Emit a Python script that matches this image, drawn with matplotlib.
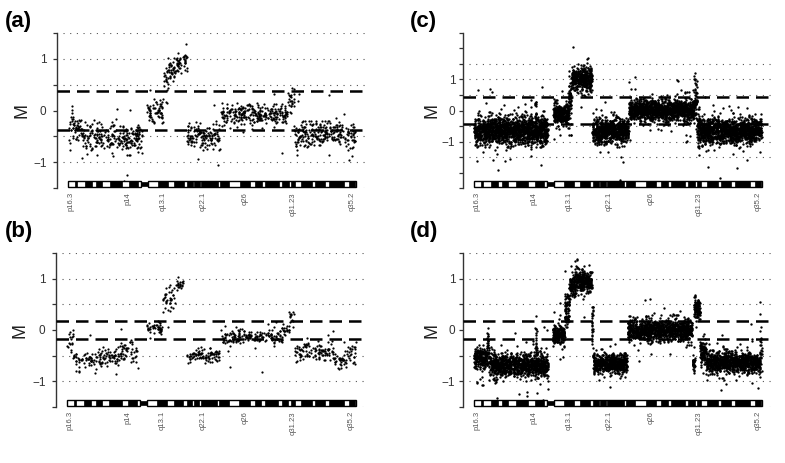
import numpy as np
import matplotlib
matplotlib.use("Agg")
from matplotlib import pyplot as plt
from matplotlib.patches import Rectangle

plt.rcParams['font.family'] = ['Liberation Sans', 'DejaVu Sans']

# chromosome 4 ideogram, positions in Mb
chrom_len = 191.0
band_names = ['p16.3', 'p14', 'q13.1', 'q22.1', 'q26', 'q31.23', 'q35.2']
band_label_pos = [1.9, 40.0, 63.1, 89.8, 117.6, 149.4, 188.3]
dark_start = [4.2, 10.9, 18.7, 27.8, 40.5, 59.4, 70.5, 79.0, 83.8, 88.3,
              100.5, 113.8, 124.2, 130.9, 142.0, 147.9, 154.6, 164.1, 173.0, 186.3]
dark_end = [6.0, 16.0, 22.7, 36.0, 46.0, 66.1, 76.7, 82.7, 87.2, 99.2,
            107.1, 120.9, 128.6, 139.7, 146.4, 150.8, 161.9, 170.8, 183.0, 190.8]
cen_start, cen_end = 48.3, 52.7

# copy-number segments: start, end (Mb), mean M, spread
a_start = [0, 3, 9, 52.5, 63, 67, 72, 79, 101.5, 146, 150]
a_end = [3, 9, 49, 63, 67, 72, 79, 101, 146, 150, 191]
a_level = [-0.2, -0.35, -0.52, 0.0, 0.65, 0.8, 0.92, -0.52, -0.07, 0.22, -0.45]
a_sd = [0.2, 0.13, 0.14, 0.1, 0.12, 0.1, 0.08, 0.12, 0.1, 0.08, 0.14]

b_start = [0, 4, 35, 52.5, 63, 72, 79, 101.5, 108, 143, 147, 150, 176, 185]
b_end = [4, 35, 47, 63, 72, 77, 101, 108, 143, 147, 150, 176, 185, 191]
b_level = [-0.2, -0.55, -0.42, 0.05, 0.62, 0.88, -0.5, -0.18, -0.12, 0.0, 0.25,
           -0.42, -0.6, -0.45]
b_sd = [0.12, 0.08, 0.1, 0.07, 0.14, 0.06, 0.07, 0.08, 0.08, 0.05, 0.07,
        0.08, 0.08, 0.1]

c_start = [0, 40.5, 52.5, 62.5, 64.5, 78.5, 102.5, 146, 148, 150]
c_end = [49, 41.5, 62.5, 64.5, 78, 102.5, 146, 148, 150, 191]
c_level = [-0.65, -0.3, -0.1, 0.35, 1.0, -0.65, 0.02, 0.3, -0.6, -0.65]
c_sd = [0.22, 0.35, 0.16, 0.3, 0.18, 0.2, 0.16, 0.3, 0.3, 0.2]

d_start = [0, 8.5, 9.5, 40.5, 52, 60, 63, 67, 68, 78, 79, 102, 145, 146, 150, 154, 190]
d_end = [8.5, 9.5, 49, 41.5, 60, 63, 67, 68, 78, 79, 101.5, 145, 146.5, 150, 154, 190, 191]
d_level = [-0.55, -0.3, -0.68, -0.3, -0.1, 0.4, 0.85, 1.05, 0.95, 0.1, -0.65,
           0.0, -0.65, 0.4, -0.4, -0.62, -0.3]
d_sd = [0.1, 0.15, 0.11, 0.2, 0.1, 0.2, 0.1, 0.18, 0.1, 0.2, 0.1, 0.1, 0.06,
        0.12, 0.12, 0.1, 0.2]

# probes per Mb, threshold lines, y range
densities = {'a': 6, 'b': 4, 'c': 30, 'd': 25}
thresholds = {'a': 0.37, 'b': 0.18, 'c': 0.45, 'd': 0.18}
ylims = {'a': 1.5, 'b': 1.5, 'c': 2.5, 'd': 1.5}
grid_levels = [-1.5, -1, -0.5, 0.5, 1, 1.5]

segments = {
    'a': (a_start, a_end, a_level, a_sd),
    'b': (b_start, b_end, b_level, b_sd),
    'c': (c_start, c_end, c_level, c_sd),
    'd': (d_start, d_end, d_level, d_sd),
}

rng = np.random.default_rng(4)


def probes(key):
    xs, ys = [], []
    for s, e, lev, sd in zip(*segments[key]):
        n = max(int(round(densities[key] * (e - s))), 3)
        x = rng.uniform(s, e, n)
        y = lev + sd * rng.standard_normal(n)
        wide = rng.random(n) < 0.05
        y[wide] = lev + 3 * sd * rng.standard_normal(wide.sum())
        xs.append(x)
        ys.append(y)
    return np.concatenate(xs), np.concatenate(ys)


def ideogram(ax):
    tr = ax.get_xaxis_transform()
    y0, h = 0.004, 0.044
    for s, e in [(0, cen_start), (cen_end, chrom_len)]:
        ax.add_patch(Rectangle((s, y0), e - s, h, transform=tr, facecolor='white',
                               edgecolor='black', lw=1.0, zorder=5, clip_on=False))
    for s, e in zip(dark_start, dark_end):
        ax.add_patch(Rectangle((s, y0), e - s, h, transform=tr, facecolor='black',
                               edgecolor='black', lw=0.5, zorder=6, clip_on=False))
    ax.add_patch(Rectangle((cen_start, y0 + h * 0.25), cen_end - cen_start, h * 0.5,
                           transform=tr, facecolor='black', edgecolor='black',
                           lw=0.5, zorder=6, clip_on=False))


fig = plt.figure(figsize=(7.85, 4.63), dpi=100)
W, H = 785.0, 463.0
boxes = {
    'a': (57, 33, 367, 188),
    'b': (56, 253, 367, 407),
    'c': (463, 33, 773, 188),
    'd': (463, 253, 773, 407),
}
label_xy = {'a': (5, 11), 'b': (5, 221), 'c': (410, 11), 'd': (410, 221)}

for key in ['a', 'b', 'c', 'd']:
    x0, y0, x1, y1 = boxes[key]
    ax = fig.add_axes([x0 / W, 1 - y1 / H, (x1 - x0) / W, (y1 - y0) / H])
    lim = ylims[key]
    ax.set_xlim(-7.5, 198.5)
    ax.set_ylim(-lim, lim)

    for g in grid_levels:
        ax.axhline(g, xmin=0.02, color='#555555', lw=0.8, ls=(0, (1, 5)), zorder=1)

    x, y = probes(key)
    ms = 1.7 if key in ('c', 'd') else 1.6
    ax.plot(x, y, 'o', ms=ms, mew=0, color='black', zorder=2)

    t = thresholds[key]
    for v in (t, -t):
        ax.axhline(v, color='black', lw=1.8, ls=(0, (5, 2.8)), zorder=3)

    ideogram(ax)

    for side in ['top', 'right', 'bottom']:
        ax.spines[side].set_visible(False)
    ax.spines['left'].set_color('#333333')
    ax.spines['left'].set_linewidth(1.0)

    yt = np.arange(-lim, lim + 0.01, 0.5)
    ylab = ['\u22121' if abs(v + 1) < 1e-6 else '0' if abs(v) < 1e-6
            else '1' if abs(v - 1) < 1e-6 else '' for v in yt]
    ax.set_yticks(yt, ylab)
    pad = 2.5 if key in ('c', 'd') else 4.5
    ax.tick_params(axis='y', length=3, width=0.9, color='#333333', labelsize=8.5,
                   labelcolor='#333333', pad=pad)
    ax.set_ylabel('M', fontsize=13, color='#222222')
    ax.yaxis.set_label_coords(-0.074 if key in ('c', 'd') else -0.087, 0.5)

    ax.set_xticks(band_label_pos, band_names)
    ax.tick_params(axis='x', length=0, labelsize=5.5, labelcolor='#555555',
                   labelrotation=90, pad=3)

    lx, ly = label_xy[key]
    fig.text(lx / W, 1 - ly / H, '(' + key + ')', fontsize=16, fontweight='bold',
             va='top', ha='left')

fig.savefig('out.png', dpi=100)
